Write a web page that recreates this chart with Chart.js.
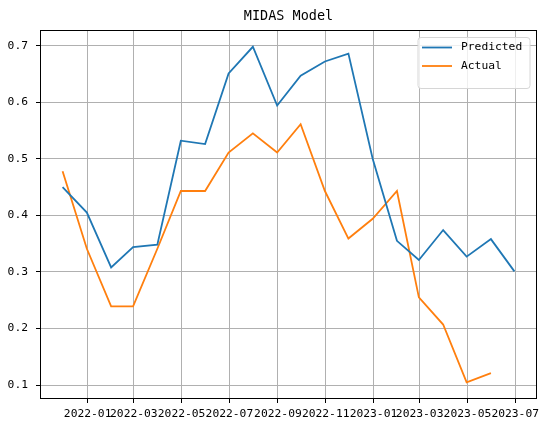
<!DOCTYPE html>
<html>
<head>
<meta charset="utf-8">
<script src="https://cdn.jsdelivr.net/npm/chart.js@4.4.0/dist/chart.umd.min.js"></script>
<style>
  body { margin: 0; background: #fff; }
</style>
</head>
<body>
<canvas id="chart" width="549" height="431"></canvas>
<script>
// month-end dates of the series
const dates = [
  "2021-11-30", "2021-12-31", "2022-01-31", "2022-02-28", "2022-03-31",
  "2022-04-30", "2022-05-31", "2022-06-30", "2022-07-31", "2022-08-31",
  "2022-09-30", "2022-10-31", "2022-11-30", "2022-12-31", "2023-01-31",
  "2023-02-28", "2023-03-31", "2023-04-30", "2023-05-31", "2023-06-30",
];
const predicted = [
  0.450, 0.405, 0.308, 0.344, 0.348, 0.532, 0.526, 0.651, 0.698, 0.594,
  0.647, 0.672, 0.686, 0.500, 0.355, 0.321, 0.374, 0.327, 0.358, 0.301,
];
const actual = [
  0.478, 0.341, 0.239, 0.239, 0.341, 0.443, 0.443, 0.511, 0.545, 0.511,
  0.561, 0.443, 0.359, 0.394, 0.443, 0.255, 0.207, 0.105, 0.121,
];
const xTickLabels = [
  "2022-01", "2022-03", "2022-05", "2022-07", "2022-09",
  "2022-11", "2023-01", "2023-03", "2023-05", "2023-07",
];
const yTicks = [0.1, 0.2, 0.3, 0.4, 0.5, 0.6, 0.7];
const title = "MIDAS Model";

const FONT = "'DejaVu Sans Mono', 'Liberation Mono', monospace";
const toDay = (s) => Date.parse(s + "T00:00:00Z") / 86400000;

const points = (vals) => vals.map((v, i) => ({ x: toDay(dates[i]), y: v }));

// matplotlib style 5% margins
const xMin = toDay(dates[0]);
const xMax = toDay(dates[dates.length - 1]);
const xPad = (xMax - xMin) * 0.05;
const allY = predicted.concat(actual);
const yLo = Math.min(...allY);
const yHi = Math.max(...allY);
const yPad = (yHi - yLo) * 0.05;

// title centred over the axes, plus the four spines
const framePlugin = {
  id: "frame",
  afterDraw(chart) {
    const { ctx, chartArea: a } = chart;
    ctx.save();
    ctx.strokeStyle = "#000";
    ctx.lineWidth = 1;
    ctx.strokeRect(Math.round(a.left) + 0.5, Math.round(a.top) + 0.5,
      Math.round(a.right - a.left) - 1, Math.round(a.bottom - a.top) - 1);
    ctx.font = "13.5px " + FONT;
    ctx.fillStyle = "#000";
    ctx.textAlign = "center";
    ctx.textBaseline = "middle";
    ctx.fillText(title, (a.left + a.right) / 2, 16);
    ctx.restore();
  },
};

const legendPlugin = {
  id: "innerLegend",
  afterDraw(chart) {
    const { ctx, chartArea: a } = chart;
    const sets = chart.data.datasets;
    const w = 112, rowH = 18.5;
    const h = 10 + rowH * sets.length + 4;
    const x = a.right - 7 - w, y = a.top + 7.5;
    ctx.save();
    ctx.beginPath();
    ctx.roundRect(x, y, w, h, 3);
    ctx.fillStyle = "rgba(255,255,255,0.8)";
    ctx.fill();
    ctx.strokeStyle = "#d6d6d6";
    ctx.lineWidth = 1;
    ctx.stroke();
    ctx.font = "11.3px " + FONT;
    ctx.textBaseline = "middle";
    ctx.fillStyle = "#000";
    sets.forEach((ds, i) => {
      const cy = y + 10 + i * rowH;
      ctx.beginPath();
      ctx.moveTo(x + 4, cy);
      ctx.lineTo(x + 34, cy);
      ctx.strokeStyle = ds.borderColor;
      ctx.lineWidth = 1.8;
      ctx.stroke();
      ctx.fillText(ds.label, x + 43, cy);
    });
    ctx.restore();
  },
};

new Chart(document.getElementById("chart"), {
  type: "line",
  data: {
    datasets: [
      {
        label: "Predicted",
        data: points(predicted),
        borderColor: "#1f77b4",
        borderWidth: 1.8,
        pointRadius: 0,
        tension: 0,
      },
      {
        label: "Actual",
        data: points(actual),
        borderColor: "#ff7f0e",
        borderWidth: 1.8,
        pointRadius: 0,
        tension: 0,
      },
    ],
  },
  options: {
    responsive: false,
    animation: false,
    devicePixelRatio: 1,
    layout: { padding: { left: 0, right: 12, top: 30, bottom: 0 } },
    plugins: {
      legend: { display: false },
      tooltip: { enabled: false },
      title: { display: false },
    },
    scales: {
      x: {
        type: "linear",
        min: xMin - xPad,
        max: xMax + xPad,
        afterBuildTicks: (scale) => {
          scale.ticks = xTickLabels.map((m) => ({ value: toDay(m + "-01") }));
        },
        afterFit: (scale) => { scale.height = 32; },
        ticks: {
          autoSkip: false,
          maxRotation: 0,
          minRotation: 0,
          padding: 4,
          color: "#000",
          font: { family: FONT, size: 11.3 },
          callback: (value, index) => xTickLabels[index],
        },
        grid: { color: "#b0b0b0", lineWidth: 1, tickLength: 4, tickColor: "#000" },
        border: { display: false },
      },
      y: {
        min: yLo - yPad,
        max: yHi + yPad,
        afterBuildTicks: (scale) => {
          scale.ticks = yTicks.map((v) => ({ value: v }));
        },
        afterFit: (scale) => { scale.width = 40; },
        ticks: {
          padding: 8,
          color: "#000",
          font: { family: FONT, size: 11.3 },
          callback: (value) => value.toFixed(1),
        },
        grid: { color: "#b0b0b0", lineWidth: 1, tickLength: 4, tickColor: "#000" },
        border: { display: false },
      },
    },
  },
  plugins: [framePlugin, legendPlugin],
});
</script>
</body>
</html>
